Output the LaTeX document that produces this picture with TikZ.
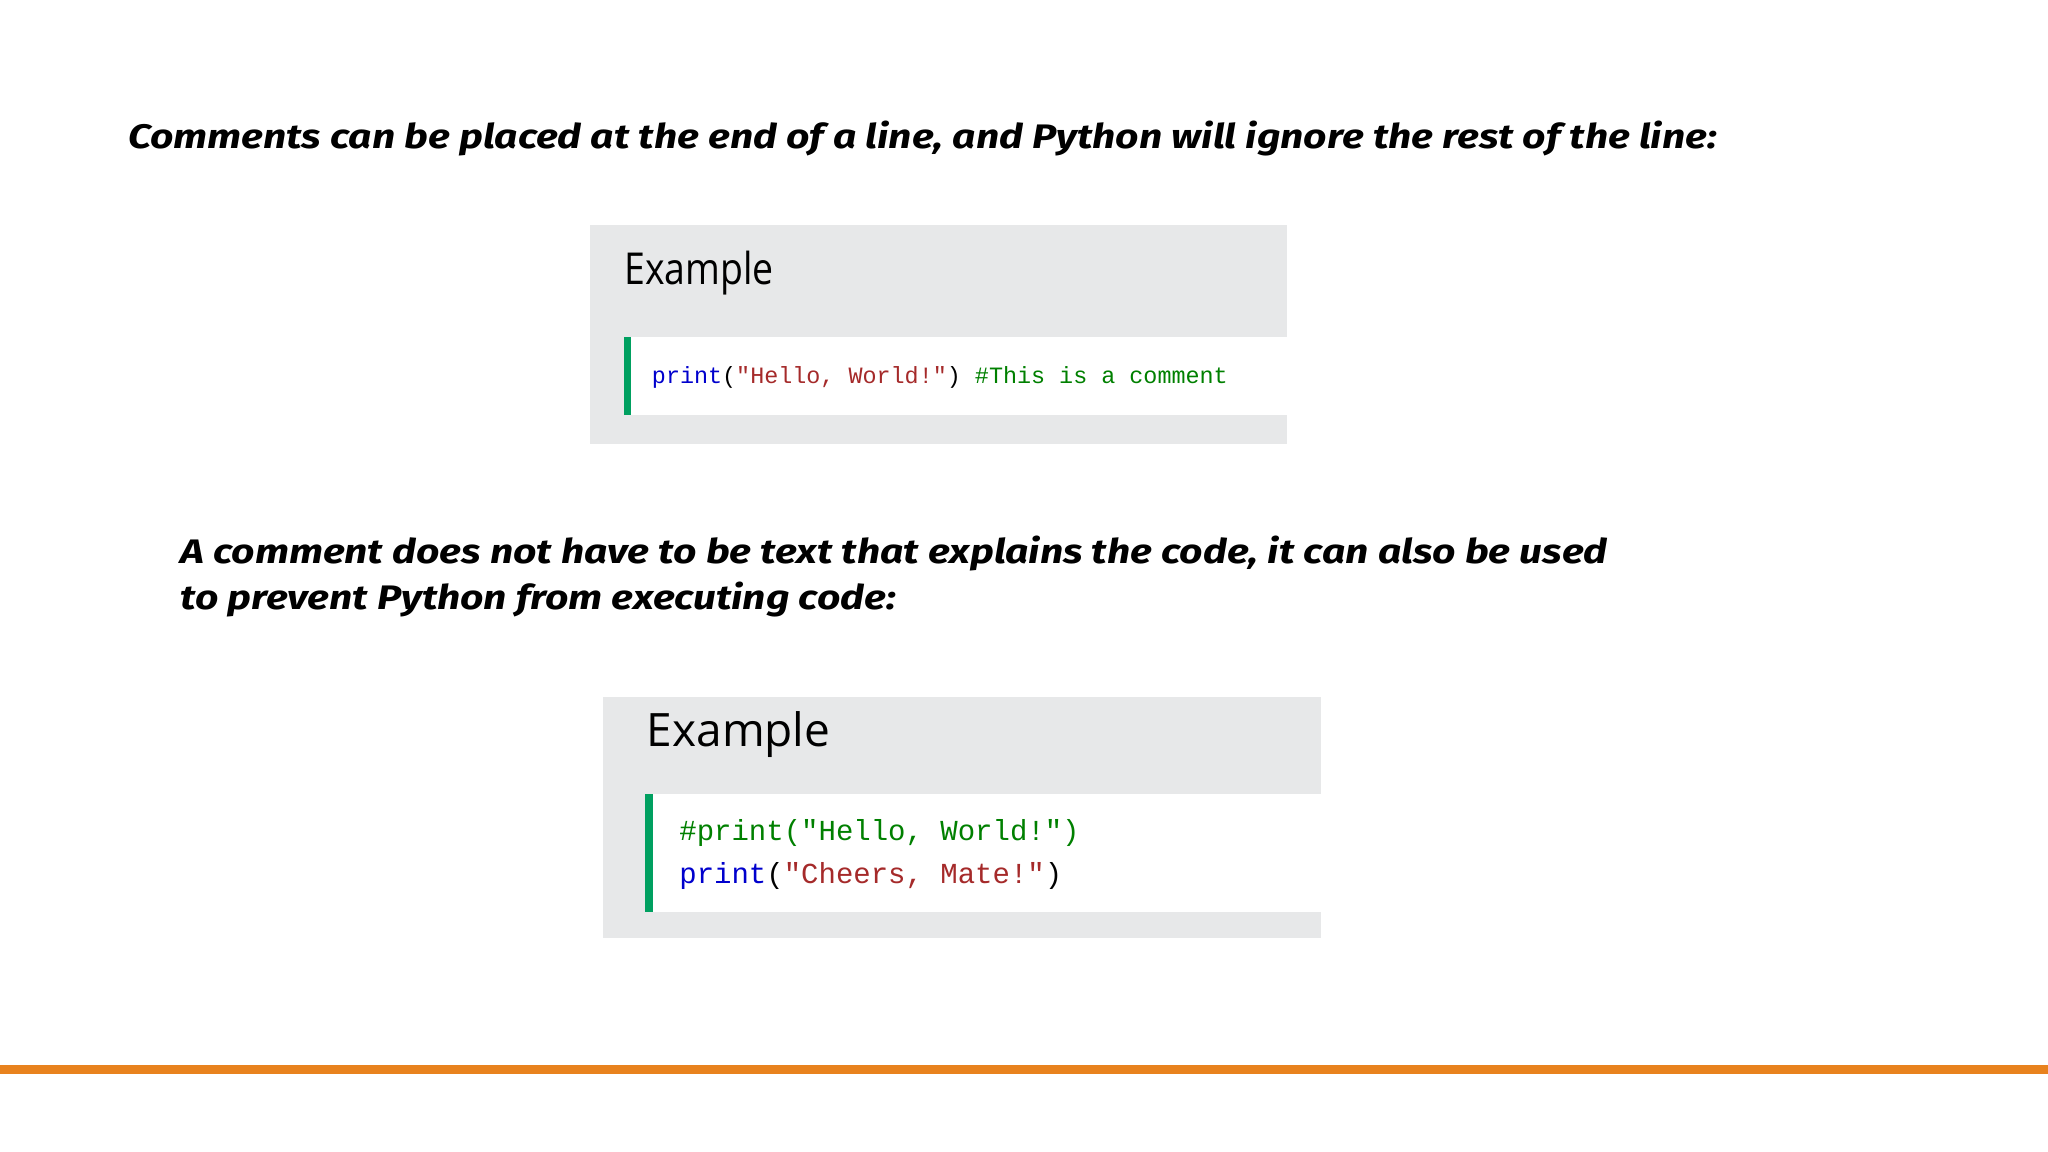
\documentclass[tikz,border=0pt]{standalone}
\usepackage{fontspec}
\setmainfont{Fira Sans}
\newfontfamily\codefont{Liberation Mono}
\newfontfamily\exfont{Open Sans}
\definecolor{boxgray}{HTML}{E7E8E9}
\definecolor{codegreen}{HTML}{00A060}
\definecolor{kw}{HTML}{0000CD}
\definecolor{str}{HTML}{A52A2A}
\definecolor{cm}{HTML}{008000}
\definecolor{orng}{HTML}{E8821E}
\begin{document}
\begin{tikzpicture}[x=1.306pt,y=-1.306pt,
  head/.style={anchor=west,inner sep=0,font=\fontsize{34}{42}\selectfont\bfseries\itshape\addfontfeature{FakeStretch=1.2}},
  code/.style={anchor=west,inner sep=0}]
\useasboundingbox (0,0) rectangle (1568,882);
\fill[white] (0,0) rectangle (1568,882);
\node[head] (t1) at (98,106) {Comments can be placed at the end of a line, and Python will ignore the rest of the line:};
% box 1
\fill[boxgray] (452,172) rectangle (985,340);
\fill[white] (478,258) rectangle (985,318);
\fill[codegreen] (478,258) rectangle (483,318);
\node[code,font=\exfont\fontsize{44}{50}\selectfont\addfontfeature{FakeStretch=0.85}] (e1) at (478,209) {Example};
\node[code,font=\codefont\fontsize{23.4}{28}\selectfont] (c1) at (499,289) {\color{kw}print\color{black}(\color{str}"Hello, World!"\color{black}) \color{cm}\#This is a comment};
\node[head] (t2) at (138,424) {A comment does not have to be text that explains the code, it can also be used};
\node[head] (t3) at (138,459) {to prevent Python from executing code:};
% box 2
\fill[boxgray] (462,534) rectangle (1011,718);
\fill[white] (494,608) rectangle (1011,698);
\fill[codegreen] (494,608) rectangle (500,698);
\node[code,font=\exfont\fontsize{46}{52}\selectfont] (e2) at (495,562) {Example};
\node[code,font=\codefont\fontsize{29}{34}\selectfont] (c2) at (520,638) {\color{cm}\#print("Hello, World!")};
\node[code,font=\codefont\fontsize{29}{34}\selectfont] (c3) at (520,671) {\color{kw}print\color{black}(\color{str}"Cheers, Mate!"\color{black})};
\fill[orng] (0,815) rectangle (1568,822);
\end{tikzpicture}
\end{document}
